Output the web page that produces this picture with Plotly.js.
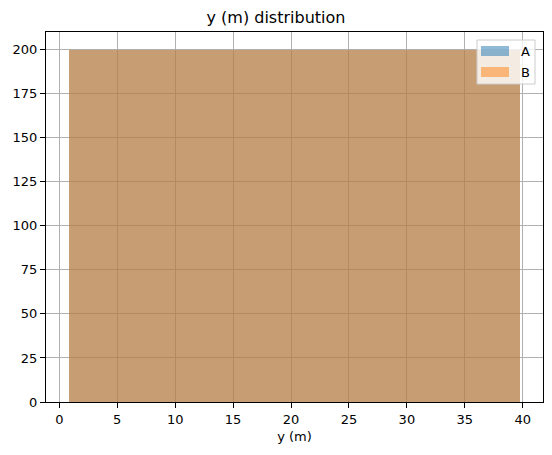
<!DOCTYPE html>
<html><head><meta charset="utf-8">
<script src="https://cdn.plot.ly/plotly-3.0.1.min.js"></script>
<style>html,body{margin:0;padding:0;background:#fff;}</style>
</head><body>
<div id="chart" style="width:552px;height:455px;"></div>
<script>
const binEdges = [0.8, 4.7, 8.6, 12.5, 16.4, 20.3, 24.2, 28.1, 32.0, 35.9, 39.8];
const countsA = [200, 200, 200, 200, 200, 200, 200, 200, 200, 200];
const countsB = [200, 200, 200, 200, 200, 200, 200, 200, 200, 200];
const seriesNames = ['A', 'B'];
const seriesColors = ['rgba(31,119,180,0.5)', 'rgba(255,127,14,0.5)'];

const centers = [], widths = [];
for (let i = 0; i < binEdges.length - 1; i++) {
  centers.push((binEdges[i] + binEdges[i + 1]) / 2);
  widths.push(binEdges[i + 1] - binEdges[i]);
}
const lo = binEdges[0], hi = binEdges[binEdges.length - 1];
const pad = (hi - lo) * 0.05;

const traces = [
  {type: 'bar', x: centers, y: countsA, width: widths, name: seriesNames[0],
   marker: {color: seriesColors[0], line: {width: 0}}},
  {type: 'bar', x: centers, y: countsB, width: widths, name: seriesNames[1],
   marker: {color: seriesColors[1], line: {width: 0}}}
];

const W = 552, H = 455, M = {l: 46, r: 9, t: 32, b: 53};
const pw = W - M.l - M.r, ph = H - M.t - M.b;
const px = x => (x - M.l) / pw;
const py = y => (H - M.b - y) / ph;

// legend drawn as a matplotlib-style box
const shapes = [
  {type: 'rect', xref: 'paper', yref: 'paper', x0: px(477), x1: px(535), y0: py(84), y1: py(40),
   fillcolor: 'rgba(255,255,255,0.8)', line: {color: '#cccccc', width: 1}, layer: 'above'}
];
const annotations = [];
const rowY = [51, 72];
seriesNames.forEach((n, i) => {
  shapes.push({type: 'rect', xref: 'paper', yref: 'paper', x0: px(481), x1: px(509),
    y0: py(rowY[i] + 5), y1: py(rowY[i] - 5), fillcolor: seriesColors[i], line: {width: 0}, layer: 'above'});
  annotations.push({xref: 'paper', yref: 'paper', x: px(519), y: py(rowY[i]), xanchor: 'left', yanchor: 'middle',
    text: n, showarrow: false, font: {family: 'DejaVu Sans', size: 13, color: '#000'}});
});

const axisCommon = {
  showline: true, linecolor: '#000', linewidth: 1, mirror: true,
  ticks: 'outside', ticklen: 5, tickcolor: '#000', tickwidth: 1,
  showgrid: true, gridcolor: '#b0b0b0', gridwidth: 1, zeroline: false,
  tickfont: {family: 'DejaVu Sans', size: 13, color: '#000'}
};

const layout = {
  width: W, height: H,
  margin: M,
  barmode: 'overlay', bargap: 0,
  paper_bgcolor: '#fff', plot_bgcolor: '#fff',
  font: {family: 'DejaVu Sans', color: '#000'},
  title: {text: 'y (m) distribution', font: {family: 'DejaVu Sans', size: 16, color: '#000'},
          x: 0.5, xanchor: 'center', y: 1 - 17/455, yanchor: 'middle'},
  xaxis: Object.assign({}, axisCommon, {
    range: [lo - pad, hi + pad], tickmode: 'array',
    tickvals: [0, 5, 10, 15, 20, 25, 30, 35, 40],
    title: {text: 'y (m)', font: {family: 'DejaVu Sans', size: 13, color: '#000'}, standoff: 6}
  }),
  yaxis: Object.assign({}, axisCommon, {
    range: [0, 210], tickmode: 'array',
    tickvals: [0, 25, 50, 75, 100, 125, 150, 175, 200]
  }),
  showlegend: false,
  shapes: shapes,
  annotations: annotations
};

Plotly.newPlot('chart', traces, layout, {displayModeBar: false, staticPlot: true});
</script>
</body></html>
